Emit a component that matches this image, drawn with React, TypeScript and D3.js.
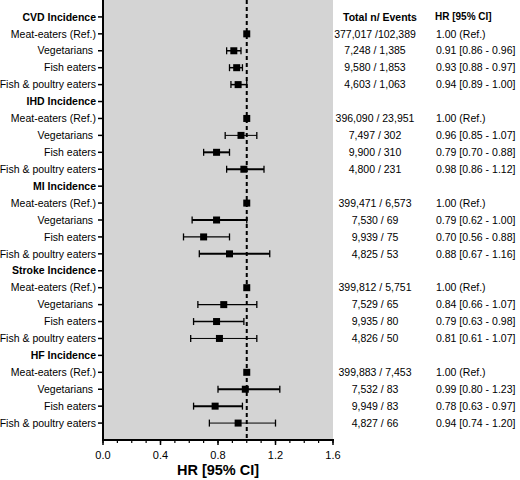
import * as d3 from "d3";

// outcomes and diet groups
const outcomes = ["CVD Incidence", "IHD Incidence", "MI Incidence", "Stroke Incidence", "HF Incidence"];
const diets = ["Meat-eaters (Ref.)", "Vegetarians ", "Fish eaters", "Fish & poultry eaters"];

// hazard ratios, per outcome, per diet
const hr = [
  [1.0, 0.91, 0.93, 0.94],
  [1.0, 0.96, 0.79, 0.98],
  [1.0, 0.79, 0.7, 0.88],
  [1.0, 0.84, 0.79, 0.81],
  [1.0, 0.99, 0.78, 0.94],
];
const ciLow = [
  [1.0, 0.86, 0.88, 0.89],
  [1.0, 0.85, 0.7, 0.86],
  [1.0, 0.62, 0.56, 0.67],
  [1.0, 0.66, 0.63, 0.61],
  [1.0, 0.8, 0.63, 0.74],
];
const ciHigh = [
  [1.0, 0.96, 0.97, 1.0],
  [1.0, 1.07, 0.88, 1.12],
  [1.0, 1.0, 0.88, 1.16],
  [1.0, 1.07, 0.98, 1.07],
  [1.0, 1.23, 0.97, 1.2],
];
const events = [
  ["377,017 /102,389", "7,248 / 1,385", "9,580 / 1,853", "4,603 / 1,063"],
  ["396,090 / 23,951", "7,497 / 302", "9,900 / 310", "4,800 / 231"],
  ["399,471 / 6,573", "7,530 / 69", "9,939 / 75", "4,825 / 53"],
  ["399,812 / 5,751", "7,529 / 65", "9,935 / 80", "4,826 / 50"],
  ["399,883 / 7,453", "7,532 / 83", "9,949 / 83", "4,827 / 66"],
];
const xTicks = [0, 0.4, 0.8, 1.2, 1.6];

// line weight of each CI bar in the original figure
const CI_STROKE = [
  [2, 1.5, 1.5, 1.5],
  [2, 1, 2, 2],
  [2, 2, 1.2, 2],
  [2, 1.2, 1.5, 1],
  [2, 2, 2, 1],
];

const WIDTH = 520;
const HEIGHT = 480;
const PLOT = { left: 103, right: 333, top: 0, bottom: 440 };
const FONT = "Arial, 'Liberation Sans', sans-serif";

type Row = {
  label: string;
  header: boolean;
  g: number;
  d: number;
};

const rows: Row[] = [];
outcomes.forEach((o, g) => {
  rows.push({ label: o, header: true, g, d: -1 });
  diets.forEach((dt, d) => rows.push({ label: dt, header: false, g, d }));
});

export default function App() {
  const xScale = d3.scaleLinear().domain([0, 1.6]).range([PLOT.left, PLOT.right]);
  const yScale = d3.scaleLinear().domain([-1, rows.length]).range([PLOT.top, PLOT.bottom]);
  const minor = d3.range(0, 16.5, 1).map((v) => v / 10);

  return (
    <svg
      width={WIDTH}
      height={HEIGHT}
      style={{ position: "absolute", left: 0, top: 0, background: "#fff" }}
      fontFamily={FONT}
    >
      <rect
        x={PLOT.left}
        y={PLOT.top}
        width={PLOT.right - PLOT.left}
        height={PLOT.bottom - PLOT.top}
        fill="#d4d4d4"
      />
      {/* reference line at HR = 1 */}
      <line
        x1={xScale(1)}
        x2={xScale(1)}
        y1={PLOT.top}
        y2={PLOT.bottom}
        stroke="#000"
        strokeWidth={2}
        strokeDasharray="4,3"
      />

      {/* CI bars and points */}
      {rows.map((r, i) => {
        if (r.header) return null;
        const y = yScale(i);
        const lo = xScale(ciLow[r.g][r.d]);
        const hi = xScale(ciHigh[r.g][r.d]);
        const sw = CI_STROKE[r.g][r.d];
        const isRef = r.d === 0;
        return (
          <g key={"m" + i}>
            {!isRef && (
              <>
                <line x1={lo} x2={hi} y1={y} y2={y} stroke="#000" strokeWidth={sw} />
                <line x1={lo} x2={lo} y1={y - 3.5} y2={y + 3.5} stroke="#000" strokeWidth={1.3} />
                <line x1={hi} x2={hi} y1={y - 3.5} y2={y + 3.5} stroke="#000" strokeWidth={1.3} />
              </>
            )}
            <rect x={xScale(hr[r.g][r.d]) - 3.5} y={y - 3.5} width={7} height={7} fill="#000" />
          </g>
        );
      })}

      {/* left axis */}
      <line x1={PLOT.left} x2={PLOT.left} y1={PLOT.top} y2={PLOT.bottom + 1} stroke="#000" strokeWidth={2} />
      {rows.map((r, i) => (
        <g key={"y" + i} transform={`translate(0,${yScale(i)})`}>
          <line x1={PLOT.left - 5} x2={PLOT.left} stroke="#000" strokeWidth={1.5} />
          <text
            x={PLOT.left - 7}
            dy="0.35em"
            textAnchor="end"
            fontSize={10.5}
            fontWeight={r.header ? "bold" : "normal"}
            fill="#000"
            style={{ whiteSpace: "pre" }}
          >
            {r.label}
          </text>
        </g>
      ))}

      {/* bottom axis */}
      <line x1={PLOT.left - 1} x2={PLOT.right + 1} y1={PLOT.bottom} y2={PLOT.bottom} stroke="#000" strokeWidth={2} />
      {minor.map((v) => (
        <line
          key={"mt" + v}
          x1={xScale(v)}
          x2={xScale(v)}
          y1={PLOT.bottom}
          y2={PLOT.bottom + 3}
          stroke="#000"
          strokeWidth={1.2}
        />
      ))}
      {xTicks.map((v) => (
        <g key={"xt" + v} transform={`translate(${xScale(v)},0)`}>
          <line y1={PLOT.bottom} y2={PLOT.bottom + 5} stroke="#000" strokeWidth={1.5} />
          <text y={459} textAnchor="middle" fontSize={11} fill="#000">
            {v.toFixed(1)}
          </text>
        </g>
      ))}
      <text
        x={(PLOT.left + PLOT.right) / 2}
        y={475}
        textAnchor="middle"
        fontSize={14.5}
        fontWeight="bold"
        fill="#000"
      >
        HR [95% CI]
      </text>

      {/* right-hand table */}
      <text x={380} y={yScale(0)} dy="0.35em" textAnchor="middle" fontSize={10.5} fontWeight="bold">
        Total n/ Events
      </text>
      <text x={435} y={yScale(0)} dy="0.35em" fontSize={10} fontWeight="bold">
        HR [95% CI]
      </text>
      {rows.map((r, i) => {
        if (r.header) return null;
        const h = hr[r.g][r.d];
        const txt =
          r.d === 0
            ? `${h.toFixed(2)} (Ref.)`
            : `${h.toFixed(2)} [${ciLow[r.g][r.d].toFixed(2)} - ${ciHigh[r.g][r.d].toFixed(2)}]`;
        return (
          <g key={"t" + i}>
            <text x={375} y={yScale(i)} dy="0.35em" textAnchor="middle" fontSize={10.5} fill="#000">
              {events[r.g][r.d]}
            </text>
            <text x={436} y={yScale(i)} dy="0.35em" fontSize={10.5} fill="#000">
              {txt}
            </text>
          </g>
        );
      })}
    </svg>
  );
}
